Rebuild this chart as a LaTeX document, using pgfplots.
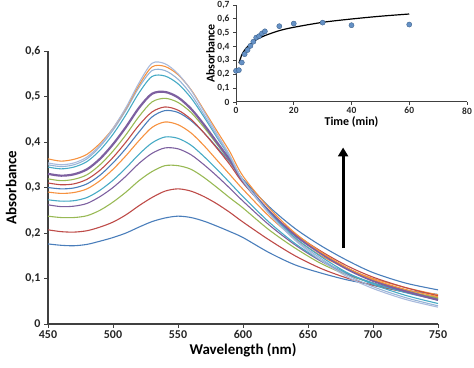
\documentclass[border=0pt]{standalone}
\usepackage{fontspec}
\setmainfont{Carlito}
\usepackage{pgfplots}
\usepackage{pgfplotstable}
\pgfplotsset{compat=1.18}
\usetikzlibrary{arrows.meta}
\definecolor{ca}{HTML}{4A7EBB}
\definecolor{cb}{HTML}{BE4B48}
\definecolor{cc}{HTML}{98B954}
\definecolor{cd}{HTML}{7D60A0}
\definecolor{ce}{HTML}{46AAC5}
\definecolor{cf}{HTML}{F69240}
\definecolor{cg}{HTML}{95B3D7}
\definecolor{ch}{HTML}{A9BBDD}
\definecolor{axc}{HTML}{404040}
\pgfplotstableread{
wl c1 c2 c3 c4 c5 c6 c7 c8 c9 c10 c11 c12 c13 c14
450 0.176 0.207 0.237 0.262 0.273 0.290 0.300 0.310 0.319 0.330 0.345 0.350 0.363 0.354
460 0.173 0.203 0.234 0.258 0.270 0.287 0.297 0.306 0.315 0.326 0.341 0.346 0.358 0.350
470 0.172 0.202 0.234 0.259 0.271 0.289 0.299 0.308 0.318 0.329 0.345 0.350 0.362 0.354
480 0.175 0.205 0.238 0.265 0.278 0.297 0.308 0.318 0.328 0.340 0.357 0.363 0.373 0.367
490 0.182 0.213 0.250 0.280 0.294 0.315 0.327 0.338 0.350 0.363 0.382 0.390 0.397 0.393
500 0.190 0.224 0.268 0.300 0.316 0.340 0.354 0.366 0.380 0.395 0.417 0.426 0.430 0.430
510 0.200 0.240 0.290 0.325 0.343 0.370 0.386 0.400 0.416 0.433 0.460 0.470 0.474 0.476
520 0.213 0.260 0.315 0.353 0.373 0.403 0.422 0.437 0.456 0.475 0.508 0.520 0.525 0.530
530 0.225 0.278 0.335 0.375 0.398 0.432 0.455 0.466 0.488 0.506 0.544 0.557 0.565 0.573
540 0.233 0.292 0.348 0.387 0.411 0.444 0.469 0.477 0.496 0.510 0.545 0.557 0.566 0.572
550 0.237 0.297 0.348 0.385 0.408 0.438 0.465 0.470 0.487 0.498 0.528 0.538 0.548 0.550
560 0.234 0.292 0.340 0.372 0.393 0.420 0.447 0.450 0.465 0.473 0.497 0.505 0.515 0.514
570 0.226 0.280 0.322 0.350 0.368 0.392 0.420 0.420 0.432 0.438 0.455 0.460 0.470 0.467
580 0.215 0.264 0.300 0.325 0.340 0.360 0.388 0.386 0.395 0.399 0.410 0.413 0.424 0.418
590 0.203 0.245 0.277 0.298 0.310 0.328 0.355 0.350 0.357 0.360 0.366 0.367 0.378 0.370
600 0.190 0.224 0.255 0.270 0.280 0.296 0.318 0.310 0.313 0.314 0.316 0.315 0.325 0.316
620 0.157 0.185 0.207 0.218 0.224 0.237 0.258 0.248 0.248 0.248 0.245 0.243 0.255 0.243
640 0.130 0.150 0.167 0.174 0.177 0.188 0.210 0.198 0.195 0.195 0.190 0.186 0.200 0.184
660 0.112 0.122 0.133 0.138 0.140 0.150 0.172 0.160 0.156 0.155 0.148 0.144 0.158 0.140
680 0.097 0.101 0.108 0.110 0.112 0.122 0.140 0.128 0.123 0.121 0.113 0.108 0.124 0.104
700 0.086 0.085 0.090 0.090 0.090 0.100 0.113 0.103 0.097 0.095 0.087 0.082 0.098 0.078
725 0.074 0.070 0.072 0.070 0.069 0.080 0.090 0.080 0.074 0.072 0.063 0.058 0.076 0.054
750 0.065 0.058 0.058 0.055 0.053 0.064 0.075 0.062 0.055 0.053 0.045 0.040 0.060 0.037
}\spectra
\pgfplotstableread{
t a
0 0.225
1 0.230
2 0.285
3 0.345
4 0.375
5 0.405
6 0.435
7 0.465
8 0.475
9 0.495
10 0.510
15 0.547
20 0.566
30 0.573
40 0.554
60 0.559
}\kin
\pgfplotstableread{
t a
1 0.280
2 0.340
3 0.375
4 0.400
5 0.419
7 0.449
10 0.479
15 0.515
20 0.539
30 0.575
40 0.599
50 0.619
60 0.635
}\fit
\begin{document}
\begin{tikzpicture}
\path[use as bounding box] (0bp,0bp) rectangle (474bp,368bp);
\begin{axis}[
  at={(48bp,44bp)}, anchor=south west,
  scale only axis, width=390bp, height=273bp,
  xmin=450, xmax=750, ymin=0, ymax=0.6,
  axis lines=left, axis line style={-, axc, line width=1.3pt},
  xtick={450,500,...,750}, ytick={0,0.1,...,0.6},
  tick align=outside, major tick length=4pt,
  tick style={axc, line width=1pt},
  /pgf/number format/.cd, use comma, fixed, precision=1, assume math mode=true,
  /pgfplots/.cd,
  tick label style={font=\fontsize{12}{14}\selectfont\bfseries, text=black!85},
  xticklabel style={yshift=1pt},
  xlabel={Wavelength (nm)}, ylabel={Absorbance},
  label style={font=\fontsize{15}{17}\selectfont\bfseries},
  xlabel style={yshift=2pt},
  ylabel style={yshift=2pt},
  every axis plot/.append style={line width=1.1pt, no marks, smooth, tension=0.5},
  clip=false,
]
\addplot[ca] table[x=wl,y=c1]{\spectra};
\addplot[cb] table[x=wl,y=c2]{\spectra};
\addplot[cc] table[x=wl,y=c3]{\spectra};
\addplot[cd] table[x=wl,y=c4]{\spectra};
\addplot[ce] table[x=wl,y=c5]{\spectra};
\addplot[cf] table[x=wl,y=c6]{\spectra};
\addplot[ca] table[x=wl,y=c7]{\spectra};
\addplot[cb] table[x=wl,y=c8]{\spectra};
\addplot[cc] table[x=wl,y=c9]{\spectra};
\addplot[cd, line width=2.2pt] table[x=wl,y=c10]{\spectra};
\addplot[ce] table[x=wl,y=c11]{\spectra};
\addplot[cg] table[x=wl,y=c12]{\spectra};
\addplot[cf] table[x=wl,y=c13]{\spectra};
\addplot[ch] table[x=wl,y=c14]{\spectra};
\draw[line width=3pt, -{Triangle[length=9pt,width=10pt]}] (axis cs:677,0.167) -- (axis cs:677,0.388);
\end{axis}
\begin{axis}[
  at={(236bp,266bp)}, anchor=south west,
  scale only axis, width=231bp, height=97bp,
  xmin=0, xmax=80, ymin=0, ymax=0.7,
  axis lines=left, axis line style={-, axc, line width=1pt},
  xtick={0,20,...,80}, ytick={0,0.1,...,0.7},
  tick align=outside, major tick length=3pt,
  tick style={axc, line width=0.8pt},
  /pgf/number format/.cd, use comma, fixed, precision=1, assume math mode=true,
  /pgfplots/.cd,
  tick label style={font=\fontsize{9.5}{10}\selectfont\bfseries, text=black!85},
  xticklabel style={yshift=1pt},
  xlabel={Time (min)}, ylabel={Absorbance},
  label style={font=\fontsize{12}{13}\selectfont\bfseries},
  xlabel style={yshift=4pt}, ylabel style={yshift=-4pt},
  clip=false,
]
\addplot[only marks, mark=*, mark size=2.6pt, mark options={fill=ca!85, draw=ca!70!black, line width=0.3pt}] table[x=t,y=a]{\kin};
\addplot[black, line width=1.2pt, smooth, no marks] table[x=t,y=a]{\fit};
\end{axis}
\end{tikzpicture}
\end{document}
